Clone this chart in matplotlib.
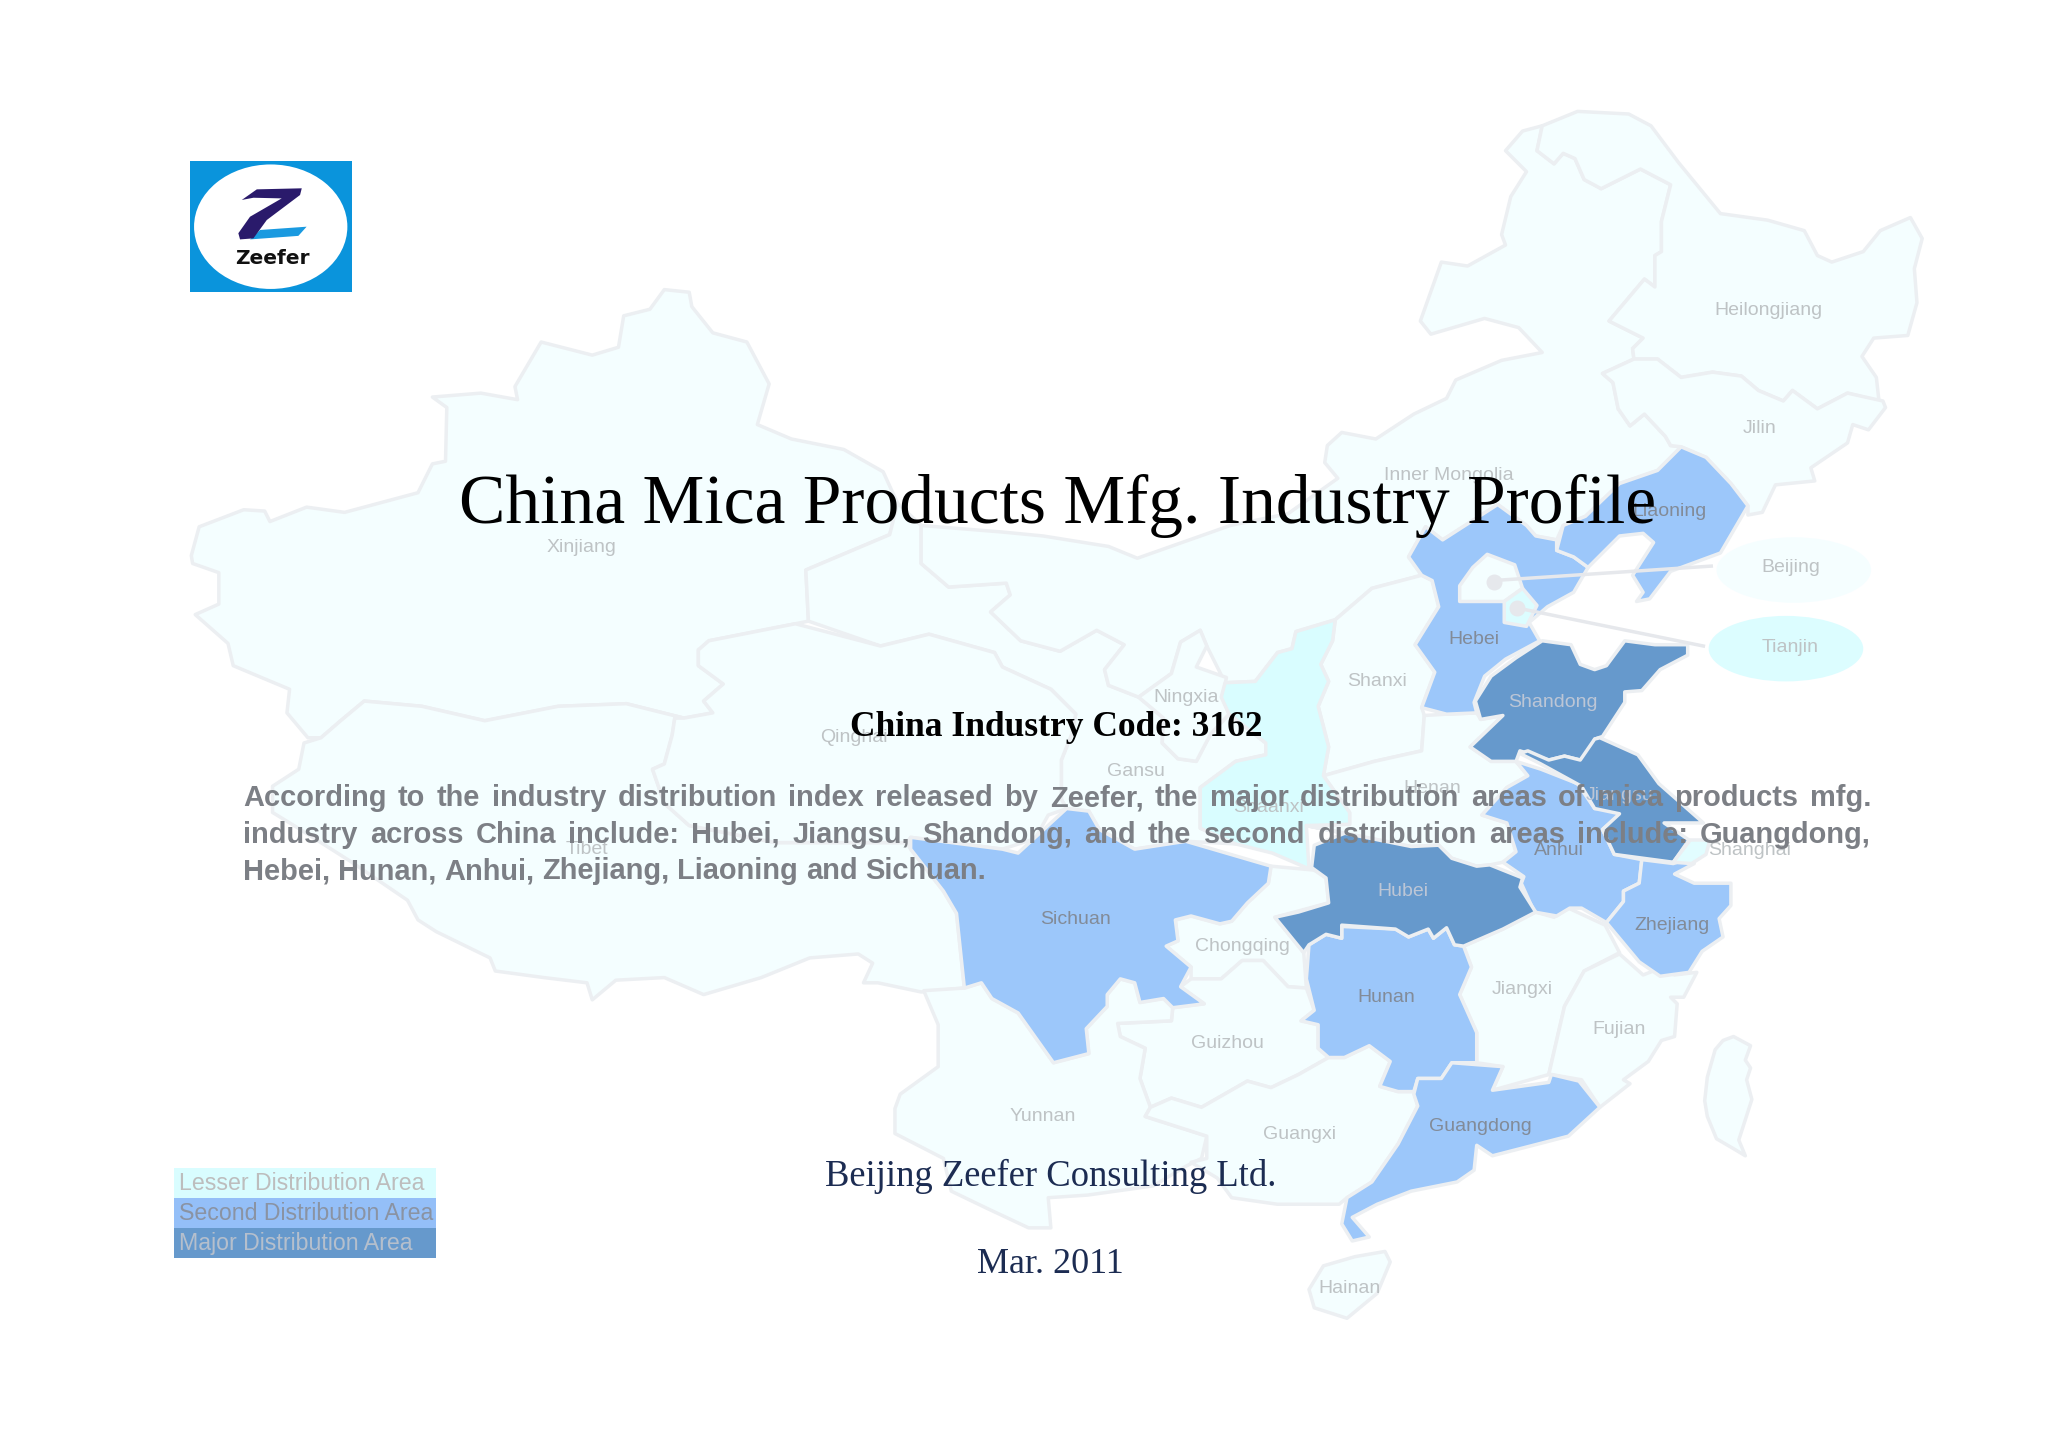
import matplotlib
matplotlib.use("Agg")
import matplotlib.pyplot as plt
from matplotlib.patches import Ellipse, Polygon, Rectangle

# outlines, in picture units (1563 x 1105)
xinjiang = [(146,424),(152,402),(186,389),(202,390),(206,398),(234,387),(263,391),(319,376),(330,354),(340,352),(341,311),(330,303),(367,300),(395,305),(393,295),(413,261),(452,271),(472,265),(476,241),(496,236),(507,221),(526,223),(528,234),(544,254),(570,261),(587,293),(578,324),(604,335),(644,343),(674,360),(685,384),(679,408),(615,435),(617,474),(607,476),(541,489),(533,496),(533,508),(552,522),(537,535),(544,544),(522,548),(478,537),(426,539),(370,550),(322,539),(278,535),(260,550),(245,563),(235,563),(219,544),(221,526),(178,508),(174,491),(149,469),(167,461),(167,437),(147,430)]
tibet = [(232,567),(245,563),(260,550),(278,535),(322,539),(370,550),(426,539),(478,537),(522,548),(515,548),(513,561),(507,583),(498,587),(507,613),(526,630),(592,643),(692,643),(695,648),(720,680),(730,697),(736,754),(703,757),(670,750),(659,750),(666,735),(655,728),(618,731),(581,746),(537,759),(507,746),(470,748),(452,763),(448,750),(415,746),(378,741),(374,731),(333,711),(319,702),(311,687),(267,657),(226,631),(208,620),(208,600),(228,587)]
qinghai = [(607,476),(672,493),(709,484),(759,498),(765,509),(802,526),(821,545),(818,560),(810,580),(810,610),(814,617),(800,622),(790,640),(765,648),(695,639),(692,643),(592,643),(526,630),(507,613),(498,587),(507,583),(513,561),(515,548),(522,548),(544,544),(537,535),(552,522),(533,508),(533,496),(541,489)]
gansu = [(679,408),(685,384),(703,401),(703,430),(724,448),(768,445),(771,454),(756,467),(779,489),(809,497),(837,481),(858,492),(843,511),(846,523),(869,532),(888,548),(887,567),(899,579),(913,581),(924,560),(938,545),(966,567),(966,576),(943,581),(916,601),(916,632),(943,644),(905,642),(866,648),(839,633),(831,619),(814,617),(810,610),(810,580),(818,560),(821,545),(802,526),(765,509),(759,498),(709,484),(672,493),(617,474),(615,435)]
ningxia = [(901,490),(916,481),(921,493),(913,509),(936,517),(933,532),(938,545),(924,560),(913,581),(899,579),(887,567),(888,548),(869,532),(894,514)]
inner_mongolia = [(1149,115),(1162,100),(1177,96),(1173,115),(1186,125),(1193,117),(1202,121),(1209,137),(1222,144),(1252,129),(1275,141),(1268,169),(1268,192),(1263,195),(1263,219),(1255,213),(1228,245),(1254,258),(1246,266),(1247,274),(1223,285),(1231,292),(1235,312),(1244,325),(1255,316),(1271,333),(1275,340),(1283,341),(1265,359),(1236,369),(1210,394),(1193,401),(1188,412),(1172,409),(1165,401),(1143,385),(1101,412),(1088,402),(1075,425),(1085,439),(1047,449),(1019,473),(989,482),(986,495),(975,498),(958,520),(935,521),(921,493),(916,481),(901,490),(894,514),(869,532),(846,523),(843,511),(858,492),(837,481),(809,497),(779,489),(756,467),(771,454),(768,445),(724,448),(703,430),(703,401),(765,406),(796,409),(846,417),(868,426),(939,401),(983,392),(1021,365),(1011,353),(1013,340),(1024,330),(1050,335),(1079,316),(1104,304),(1111,290),(1146,275),(1177,269),(1159,250),(1133,243),(1092,255),(1084,245),(1100,200),(1120,203),(1149,187),(1146,179),(1153,150),(1165,131)]
heilongjiang = [(1177,96),(1204,85),(1243,87),(1260,96),(1281,124),(1313,163),(1349,168),(1377,176),(1387,195),(1398,200),(1422,192),(1435,176),(1458,166),(1467,182),(1461,205),(1463,231),(1456,256),(1430,258),(1421,272),(1432,288),(1434,306),(1410,300),(1387,312),(1368,298),(1361,306),(1342,298),(1329,287),(1307,284),(1283,288),(1265,274),(1247,274),(1246,266),(1254,258),(1228,245),(1255,213),(1263,219),(1263,195),(1268,192),(1268,169),(1275,141),(1252,129),(1222,144),(1209,137),(1202,121),(1193,117),(1186,125),(1173,115)]
jilin = [(1247,274),(1265,274),(1283,288),(1307,284),(1329,287),(1342,298),(1361,306),(1368,298),(1387,312),(1410,300),(1437,306),(1439,311),(1426,328),(1414,324),(1410,338),(1382,357),(1385,367),(1355,370),(1345,391),(1334,393),(1334,386),(1321,369),(1302,349),(1283,341),(1275,340),(1271,333),(1255,316),(1244,325),(1235,312),(1231,292),(1223,285)]
shanxi = [(1019,473),(1047,449),(1085,439),(1093,443),(1098,463),(1080,492),(1095,513),(1085,540),(1087,546),(1085,573),(1049,581),(1010,592),(1014,570),(1006,539),(1014,520),(1008,507),(1017,489)]
henan = [(1010,592),(1049,581),(1085,573),(1087,546),(1104,545),(1127,544),(1130,549),(1147,546),(1122,570),(1138,581),(1157,581),(1166,592),(1150,601),(1131,622),(1150,628),(1157,650),(1147,658),(1137,660),(1127,661),(1108,655),(1098,645),(1077,646),(1042,639),(997,630),(1030,629),(1030,620)]
chongqing = [(897,702),(909,699),(931,705),(940,703),(952,689),(968,674),(970,661),(1003,664),(1012,670),(1014,689),(973,700),(995,727),(997,754),(983,753),(964,733),(948,733),(932,747),(909,747),(909,738),(890,722),(899,718)]
guizhou = [(909,747),(932,747),(948,733),(964,733),(983,753),(997,754),(1003,771),(993,779),(1006,782),(1006,800),(1014,807),(991,820),(970,830),(952,825),(917,845),(894,838),(878,845),(870,823),(874,800),(855,791),(853,781),(894,779),(895,769),(919,766),(901,753)]
yunnan = [(831,804),(829,785),(845,768),(845,759),(855,747),(866,750),(870,765),(888,762),(895,769),(894,779),(853,781),(855,791),(874,800),(870,823),(878,845),(874,852),(921,867),(917,884),(905,890),(880,905),(830,912),(800,914),(802,937),(785,937),(753,922),(726,909),(720,884),(683,865),(683,846),(687,835),(716,814),(716,782),(705,756),(736,754),(749,750),(757,762),(777,773),(804,811)]
guangxi = [(874,852),(878,845),(894,838),(917,845),(952,825),(970,830),(991,820),(1014,807),(1026,807),(1045,798),(1061,810),(1053,829),(1067,833),(1079,833),(1082,844),(1067,873),(1047,902),(1028,914),(1022,919),(991,919),(975,919),(940,914),(929,899),(909,887),(921,884),(921,867)]
jiangxi = [(1117,722),(1147,709),(1172,696),(1186,700),(1197,693),(1225,706),(1236,727),(1209,741),(1194,768),(1182,820),(1139,832),(1147,814),(1127,811),(1127,788),(1114,759),(1123,738)]
fujian = [(1236,728),(1254,744),(1267,739),(1278,744),(1295,742),(1285,761),(1275,761),(1280,766),(1278,791),(1268,794),(1258,810),(1239,824),(1244,827),(1221,845),(1207,824),(1184,820),(1182,820),(1194,768),(1209,741)]
taiwan = [(1315,794),(1323,791),(1336,798),(1332,809),(1336,815),(1333,824),(1337,839),(1327,870),(1332,882),(1322,876),(1310,869),(1303,852),(1301,840),(1303,822),(1309,801)]
hainan = [(999,984),(1003,998),(1028,1006),(1051,987),(1061,963),(1057,955),(1034,959),(1010,966)]
beijing = [(1135,423),(1156,431),(1162,449),(1148,459),(1114,459),(1114,447),(1124,433)]
tianjin = [(1162,449),(1173,462),(1165,478),(1148,475),(1148,459)]
shanghai = [(1290,641),(1305,641),(1302,652),(1291,659),(1277,658)]
shaanxi = [(1019,473),(1017,489),(1008,507),(1014,520),(1006,539),(1014,570),(1010,592),(1030,620),(1030,629),(997,630),(999,663),(971,651),(943,644),(916,632),(916,601),(943,581),(966,576),(966,567),(938,545),(932,532),(935,521),(958,520),(975,498),(986,495),(989,482)]
hebei = [(1075,425),(1088,402),(1101,412),(1143,385),(1165,401),(1172,409),(1188,412),(1188,420),(1201,425),(1212,433),(1201,452),(1181,463),(1167,475),(1175,489),(1149,503),(1133,516),(1125,536),(1127,544),(1104,545),(1085,540),(1095,513),(1080,492),(1098,463),(1093,443),(1085,439)]
liaoning = [(1283,341),(1302,349),(1321,369),(1334,386),(1313,422),(1275,436),(1259,457),(1249,459),(1254,452),(1246,439),(1262,414),(1254,407),(1236,409),(1212,433),(1201,425),(1188,420),(1193,401),(1210,394),(1236,369),(1265,359)]
anhui = [(1157,581),(1176,587),(1204,598),(1217,617),(1236,617),(1236,622),(1223,633),(1232,652),(1253,656),(1251,674),(1239,680),(1239,688),(1226,704),(1207,693),(1198,693),(1188,699),(1171,696),(1161,674),(1163,669),(1147,658),(1157,650),(1150,628),(1131,622),(1150,601),(1166,592)]
zhejiang = [(1253,656),(1277,659),(1289,655),(1293,659),(1278,667),(1293,674),(1321,674),(1321,691),(1312,701),(1315,715),(1299,726),(1289,742),(1267,745),(1251,734),(1226,704),(1239,688),(1239,680),(1251,674)]
sichuan = [(695,639),(765,648),(777,651),(814,617),(831,619),(839,633),(866,648),(905,642),(970,661),(968,674),(952,689),(940,703),(931,705),(909,699),(897,702),(899,718),(890,722),(909,738),(901,753),(919,766),(895,769),(888,762),(870,765),(866,750),(855,747),(845,759),(845,768),(829,785),(831,804),(804,811),(777,773),(757,762),(749,750),(736,754),(730,697),(720,680),(695,648)]
hunan = [(999,721),(1012,713),(1024,716),(1024,707),(1065,709),(1075,715),(1090,709),(1094,716),(1104,708),(1110,721),(1117,722),(1123,738),(1114,759),(1127,788),(1127,811),(1108,811),(1100,823),(1082,823),(1079,833),(1067,833),(1053,829),(1061,810),(1045,798),(1026,807),(1014,807),(1006,800),(1006,782),(993,779),(1003,771),(997,747)]
guangdong = [(1079,835),(1082,823),(1100,823),(1108,811),(1147,814),(1139,832),(1182,826),(1184,820),(1205,825),(1221,845),(1197,867),(1174,873),(1139,882),(1127,874),(1125,893),(1112,902),(1077,909),(1051,919),(1032,929),(1045,944),(1032,947),(1024,934),(1028,914),(1047,902),(1067,873),(1082,844)]
shandong = [(1177,489),(1199,492),(1206,507),(1217,511),(1226,508),(1240,489),(1263,492),(1288,492),(1288,500),(1267,511),(1253,527),(1240,528),(1240,536),(1223,562),(1217,564),(1215,571),(1206,580),(1194,577),(1182,580),(1160,573),(1157,581),(1138,581),(1122,570),(1147,546),(1130,549),(1126,535),(1138,516),(1157,502)]
jiangsu = [(1221,563),(1250,576),(1266,598),(1300,628),(1270,628),(1289,641),(1277,658),(1232,652),(1223,633),(1236,621),(1217,617),(1207,600),(1176,583),(1160,575),(1166,573),(1182,580),(1194,577),(1206,580),(1217,564)]
hubei = [(997,630),(1026,636),(1003,645),(1001,662),(1012,670),(1014,689),(991,696),(973,700),(995,727),(999,721),(1012,713),(1024,716),(1024,706),(1065,709),(1075,715),(1090,709),(1094,716),(1104,708),(1110,721),(1117,722),(1147,709),(1172,696),(1160,677),(1162,670),(1137,660),(1127,661),(1108,655),(1098,645),(1077,646),(1042,639)]

pale_areas = [xinjiang, tibet, gansu, qinghai, inner_mongolia, heilongjiang, jilin, shanxi, henan, ningxia, chongqing, guizhou, yunnan, guangxi, jiangxi, fujian, taiwan, hainan]
lesser_areas = [shaanxi]
second_areas = [hebei, liaoning, anhui, zhejiang, sichuan, hunan, guangdong]
major_areas = [shandong, jiangsu, hubei]
city_areas = [(beijing, "#F4FEFF"), (tianjin, "#DCFDFF"), (shanghai, "#E2FDFF")]

# name, x, y, tier
map_labels = [
    ("Heilongjiang", 1350, 237, 0), ("Jilin", 1343, 327, 0), ("Inner Mongolia", 1106, 363, 0),
    ("Liaoning", 1274, 390, 1), ("Xinjiang", 444, 418, 0), ("Beijing", 1367, 433, 0),
    ("Tianjin", 1366, 494, 0), ("Hebei", 1125, 488, 1), ("Shanxi", 1051, 520, 0),
    ("Shandong", 1185, 536, 2), ("Ningxia", 905, 532, 0), ("Qinghai", 652, 563, 0),
    ("Gansu", 867, 589, 0), ("Henan", 1093, 602, 0), ("Shaanxi", 968, 616, 0),
    ("Jiangsu", 1236, 607, 2), ("Tibet", 448, 648, 0), ("Anhui", 1190, 649, 1),
    ("Shanghai", 1335, 649, 0), ("Hubei", 1071, 680, 2), ("Sichuan", 821, 702, 1),
    ("Zhejiang", 1276, 706, 1), ("Chongqing", 948, 722, 0), ("Jiangxi", 1162, 755, 0),
    ("Hunan", 1058, 761, 1), ("Guizhou", 937, 796, 0), ("Fujian", 1236, 786, 0),
    ("Yunnan", 796, 852, 0), ("Guangdong", 1130, 860, 1), ("Guangxi", 992, 866, 0),
    ("Hainan", 1030, 983, 0),
]
label_colors = ["#BEC3C5", "#828B98", "#BCC6D6"]

legend_names = ["Lesser Distribution Area", "Second Distribution Area", "Major Distribution Area"]
legend_colors = ["#D9FDFF", "#94BFF8", "#6699CC"]
legend_text_colors = ["#BDBDBD", "#8A93A3", "#B5BFCC"]

body_lines = [
    "According to the industry distribution index released by Zeefer, the major distribution areas of mica products mfg.",
    "industry across China include: Hubei, Jiangsu, Shandong, and the second distribution areas include: Guangdong,",
    "Hebei, Hunan, Anhui, Zhejiang, Liaoning and Sichuan.",
]

logo_z = [(184.5,152.6),(196,144.5),(230.3,143.7),(229,148.8),(203.6,167.9),(193.4,181.9),(183.2,182.7),(181.9,178),(190.8,165.4),(215,151.4),(193.4,150.9)]
logo_swoosh = [(198.5,175.5),(234,173),(227.7,180),(190.8,182.7)]

PALE = "#F4FEFF"
LESSER = "#D9FDFF"
SECOND = "#9CC7FA"
MAJOR = "#6699CC"
EDGE = "#ECEFF2"

fig = plt.figure(figsize=(20.48, 14.48), dpi=100)
ax = fig.add_axes([0, 0, 1, 1])
ax.set_xlim(0, 1563)
ax.set_ylim(1105, 0)
ax.axis("off")


def draw_areas(areas, color, z):
    for outline in areas:
        ax.add_patch(Polygon(outline, closed=True, facecolor=color, edgecolor=EDGE,
                             linewidth=2.5, joinstyle="round", zorder=z))


draw_areas(pale_areas, PALE, 1)
draw_areas(lesser_areas, LESSER, 2)
draw_areas(second_areas, SECOND, 3)
draw_areas(major_areas, MAJOR, 4)
for outline, color in city_areas:
    draw_areas([outline], color, 4.5)

# callouts for the two small cities
ax.plot([1140, 1306], [443, 432], color="#E6E8EC", lw=2.5, zorder=5)
ax.plot([1158, 1300], [464, 493], color="#E6E8EC", lw=2.5, zorder=5)
ax.scatter([1140, 1158], [444, 464], s=110, color="#E6E8EC", zorder=5)
ax.add_patch(Ellipse((1369, 435), 118, 50, facecolor="#F5FEFF", edgecolor="none", zorder=5))
ax.add_patch(Ellipse((1363, 495), 118, 50, facecolor="#DCFDFF", edgecolor="none", zorder=5))

for name, x, y, tier in map_labels:
    ax.text(x, y, name, color=label_colors[tier], fontsize=14, family="Liberation Sans",
            ha="center", va="center", zorder=6)

# logo
ax.add_patch(Rectangle((145, 123), 124, 100, facecolor="#0A94DC", edgecolor="none", zorder=7))
ax.add_patch(Ellipse((206.6, 173), 117, 95, facecolor="white", edgecolor="none", zorder=8))
ax.add_patch(Polygon(logo_swoosh, closed=True, facecolor="#1A9AE0", edgecolor="none", zorder=9))
ax.add_patch(Polygon(logo_z, closed=True, facecolor="#2A1A6B", edgecolor="none", zorder=10))
ax.text(207.5, 197.5, "Zeefer", color="#111111", fontsize=14.5, fontweight="bold", family="DejaVu Sans",
        ha="center", va="center", zorder=10)

# legend
legend_tops = [891, 914, 937]
for name, top, c, tc in zip(legend_names, legend_tops, legend_colors, legend_text_colors):
    ax.add_patch(Rectangle((133, top), 200, 23, facecolor=c, edgecolor="none", zorder=7))
    ax.text(136.5, top + 12, name, color=tc, fontsize=16.7, family="Liberation Sans",
            ha="left", va="center", zorder=8)

ax.text(807, 386, "China Mica Products Mfg. Industry Profile", color="black", fontsize=50,
        family="Liberation Serif", ha="center", va="center", zorder=11)
ax.text(806, 555, "China Industry Code: 3162", color="black", fontsize=25.5, fontweight="bold",
        family="Liberation Serif", ha="center", va="center", zorder=11)
ax.text(801.5, 898, "Beijing Zeefer Consulting Ltd.", color="#1C2C52", fontsize=26.4,
        family="Liberation Serif", ha="center", va="center", zorder=11)
ax.text(802, 965, "Mar. 2011", color="#1C2C52", fontsize=26,
        family="Liberation Serif", ha="center", va="center", zorder=11)


def draw_body_line(line, y, justify):
    renderer = fig.canvas.get_renderer()
    left, right = 185.5, 1428
    words = []
    total = 0
    for w in line.split():
        t = ax.text(left, y, w, color="#7C7F85", fontsize=20.9, fontweight="bold",
                    family="Liberation Sans", ha="left", va="center", zorder=11)
        width = t.get_window_extent(renderer).width * 1563 / 2048
        words.append((t, width))
        total += width
    gap = (right - left - total) / (len(words) - 1) if justify else 6
    x = left
    for t, width in words:
        t.set_x(x)
        x += width + gap


draw_body_line(body_lines[0], 609, True)
draw_body_line(body_lines[1], 637, True)
draw_body_line(body_lines[2], 665, False)

fig.savefig("out.png", dpi=100)
